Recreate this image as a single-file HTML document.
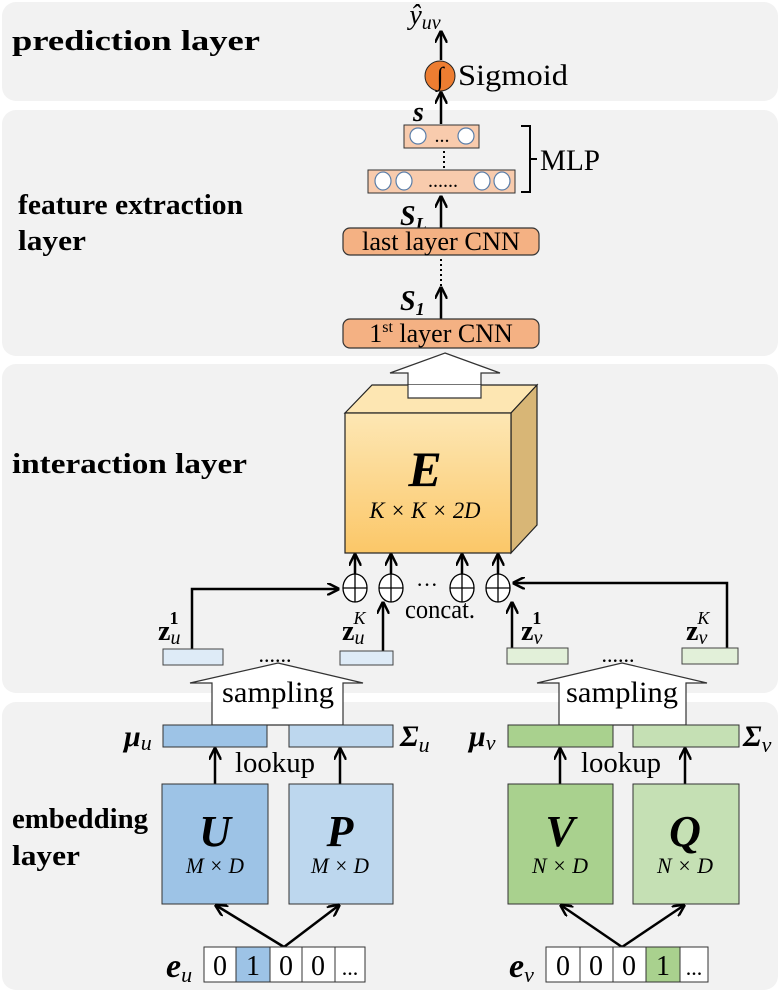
<!DOCTYPE html>
<html><head><meta charset="utf-8"><style>
html,body{margin:0;padding:0;background:#fff}
svg{display:block}
text{font-family:"Liberation Serif",serif;fill:#000}
.b{font-weight:bold}
.bi{font-weight:bold;font-style:italic}
.i{font-style:italic}
</style></head><body>
<svg width="780" height="992" viewBox="0 0 780 992" xmlns="http://www.w3.org/2000/svg">
<defs>
<marker id="ah" viewBox="0 0 10 10" refX="8" refY="5" markerWidth="5" markerHeight="5" orient="auto-start-reverse">
<path d="M0,0 L10,5 L0,10" fill="none" stroke="#000" stroke-width="2"/></marker>
<linearGradient id="cg" x1="0" y1="0" x2="0" y2="1"><stop offset="0" stop-color="#fde7b4"/><stop offset="1" stop-color="#fbc768"/></linearGradient>
</defs>
<rect x="2" y="2" width="776" height="99" rx="14" fill="#f2f2f2"/>
<rect x="2" y="110" width="776" height="246" rx="14" fill="#f2f2f2"/>
<rect x="2" y="364" width="776" height="329" rx="14" fill="#f2f2f2"/>
<rect x="2" y="702" width="776" height="288" rx="14" fill="#f2f2f2"/>
<text x="12" y="50" class="b" font-size="28" textLength="248" lengthAdjust="spacingAndGlyphs">prediction layer</text>
<text x="18" y="214" class="b" font-size="28" textLength="225" lengthAdjust="spacingAndGlyphs">feature extraction</text>
<text x="18" y="250" class="b" font-size="28" textLength="68" lengthAdjust="spacingAndGlyphs">layer</text>
<text x="12" y="473" class="b" font-size="28" textLength="235" lengthAdjust="spacingAndGlyphs">interaction layer</text>
<text x="12" y="828" class="b" font-size="28" textLength="136" lengthAdjust="spacingAndGlyphs">embedding</text>
<text x="12" y="865" class="b" font-size="28" textLength="68" lengthAdjust="spacingAndGlyphs">layer</text>

<text x="425" y="24" class="i" font-size="28" text-anchor="middle">ŷ<tspan font-size="20" dy="5">uv</tspan></text>
<line x1="441" y1="60" x2="441" y2="33" stroke="#000" stroke-width="2.5" marker-end="url(#ah)"/>
<circle cx="440" cy="76" r="15" fill="#ed7d31" stroke="#222" stroke-width="1"/>
<text x="440" y="85" font-size="26" text-anchor="middle" class="i">∫</text>
<text x="458" y="85" font-size="30" textLength="110" lengthAdjust="spacingAndGlyphs">Sigmoid</text>
<line x1="441" y1="124" x2="441" y2="94" stroke="#000" stroke-width="2.5" marker-end="url(#ah)"/>
<text x="413" y="121" class="bi" font-size="28">s</text>

<rect x="404" y="125" width="75" height="23" fill="#f8cbad" stroke="#333" stroke-width="1"/>
<ellipse cx="418" cy="136" rx="8" ry="8" fill="#fff" stroke="#5b7ea8" stroke-width="1.2"/>
<ellipse cx="466" cy="136" rx="8" ry="8" fill="#fff" stroke="#5b7ea8" stroke-width="1.2"/>
<text x="442" y="142" font-size="20" text-anchor="middle">...</text>
<line x1="444" y1="151" x2="444" y2="169" stroke="#000" stroke-width="2" stroke-dasharray="2 3"/>
<rect x="368" y="170" width="147" height="23" fill="#f8cbad" stroke="#333" stroke-width="1"/>
<ellipse cx="383" cy="181" rx="8" ry="9" fill="#fff" stroke="#5b7ea8" stroke-width="1.2"/>
<ellipse cx="404" cy="181" rx="8" ry="9" fill="#fff" stroke="#5b7ea8" stroke-width="1.2"/>
<ellipse cx="482" cy="181" rx="8" ry="9" fill="#fff" stroke="#5b7ea8" stroke-width="1.2"/>
<ellipse cx="502" cy="181" rx="8" ry="9" fill="#fff" stroke="#5b7ea8" stroke-width="1.2"/>
<text x="443" y="187" font-size="20" text-anchor="middle">......</text>
<path d="M521,126 H530 V192 H521 M530,159 H537" fill="none" stroke="#000" stroke-width="2"/>
<text x="540" y="170" font-size="30" textLength="60" lengthAdjust="spacingAndGlyphs">MLP</text>

<text x="400" y="225" class="bi" font-size="28">S<tspan font-size="18" dy="5">L</tspan></text>
<line x1="441" y1="228" x2="441" y2="198" stroke="#000" stroke-width="2.5" marker-end="url(#ah)"/>
<rect x="343" y="228" width="196" height="27" rx="7" fill="#f4b183" stroke="#333" stroke-width="1.2"/>
<text x="441" y="250" font-size="26" text-anchor="middle" textLength="158" lengthAdjust="spacingAndGlyphs">last layer CNN</text>
<line x1="441" y1="259" x2="441" y2="287" stroke="#000" stroke-width="2" stroke-dasharray="2 3"/>
<text x="400" y="310" class="bi" font-size="28">S<tspan font-size="18" dy="5">1</tspan></text>
<line x1="441" y1="319" x2="441" y2="289" stroke="#000" stroke-width="2.5" marker-end="url(#ah)"/>
<rect x="343" y="319" width="196" height="29" rx="7" fill="#f4b183" stroke="#333" stroke-width="1.2"/>
<text x="441" y="342" font-size="26" text-anchor="middle">1<tspan font-size="16" dy="-10">st</tspan><tspan dy="10"> layer CNN</tspan></text>

<path d="M445,353 L500,373 L481,373 L481,398 L408,398 L408,373 L390,373 Z" fill="#fff" stroke="#333" stroke-width="1.2"/>
<path d="M345,413 L372,385 L537,385 L511,413 Z" fill="#fde6b2" stroke="#222" stroke-width="1.2"/>
<path d="M408,398 L408,385 L481,385 L481,398 Z" fill="#fff"/>
<path d="M408,385 V398 H481 V385" fill="none" stroke="#333" stroke-width="1.2"/>
<path d="M511,413 L537,385 L537,525 L511,553 Z" fill="#d8b676" stroke="#222" stroke-width="1.2"/>
<rect x="345" y="413" width="166" height="140" fill="url(#cg)" stroke="#222" stroke-width="1.2"/>
<text x="425" y="486" class="bi" font-size="50" text-anchor="middle">E</text>
<text x="425" y="518" class="i" font-size="23" text-anchor="middle" textLength="111" lengthAdjust="spacingAndGlyphs">K × K × 2D</text>

<g stroke="#000" stroke-width="1.3" fill="#fff">
<ellipse cx="355" cy="588" rx="12" ry="14"/><path d="M343,588 H367 M355,574 V602"/>
<ellipse cx="391" cy="588" rx="12" ry="14"/><path d="M379,588 H403 M391,574 V602"/>
<ellipse cx="462" cy="588" rx="12" ry="14"/><path d="M450,588 H474 M462,574 V602"/>
<ellipse cx="498" cy="588" rx="12" ry="14"/><path d="M486,588 H510 M498,574 V602"/>
</g>
<g stroke="#000" stroke-width="2.5" marker-end="url(#ah)">
<line x1="355" y1="574" x2="355" y2="556"/><line x1="391" y1="574" x2="391" y2="556"/>
<line x1="462" y1="574" x2="462" y2="556"/><line x1="498" y1="574" x2="498" y2="556"/>
</g>
<text x="427" y="592" font-size="22" text-anchor="middle">···</text>
<text x="440" y="618" font-size="26" text-anchor="middle" textLength="70" lengthAdjust="spacingAndGlyphs">concat.</text>

<path d="M192,649 V589 H337" fill="none" stroke="#000" stroke-width="2.5" marker-end="url(#ah)"/>
<line x1="383" y1="651" x2="383" y2="604" stroke="#000" stroke-width="2.5" marker-end="url(#ah)"/>
<path d="M727,648 V583 H515" fill="none" stroke="#000" stroke-width="2.5" marker-end="url(#ah)"/>
<line x1="512" y1="648" x2="512" y2="604" stroke="#000" stroke-width="2.5" marker-end="url(#ah)"/>
<rect x="163" y="649" width="60" height="16" fill="#deebf7" stroke="#444" stroke-width="1"/>
<rect x="340" y="651" width="53" height="14" fill="#deebf7" stroke="#444" stroke-width="1"/>
<rect x="507" y="648" width="61" height="16" fill="#e2f0d9" stroke="#444" stroke-width="1"/>
<rect x="682" y="648" width="56" height="16" fill="#e2f0d9" stroke="#444" stroke-width="1"/>
<text x="275" y="662" font-size="22" text-anchor="middle">......</text>
<text x="618" y="662" font-size="22" text-anchor="middle">......</text>
<text x="158" y="640" class="b" font-size="28">z<tspan font-size="20" dy="4" class="i" font-weight="normal">u</tspan><tspan font-size="18" dy="-20" dx="-11">1</tspan></text>
<text x="342" y="640" class="b" font-size="28">z<tspan font-size="20" dy="4" class="i" font-weight="normal">u</tspan><tspan font-size="18" dy="-20" dx="-11" class="i" font-weight="normal">K</tspan></text>
<text x="521" y="640" class="b" font-size="28">z<tspan font-size="20" dy="4" class="i" font-weight="normal">v</tspan><tspan font-size="18" dy="-20" dx="-10">1</tspan></text>
<text x="686" y="640" class="b" font-size="28">z<tspan font-size="20" dy="4" class="i" font-weight="normal">v</tspan><tspan font-size="18" dy="-20" dx="-10" class="i" font-weight="normal">K</tspan></text>

<path d="M278,663 L363,683 L343,683 L343,725 L212,725 L212,683 L190,683 Z" fill="#fff" stroke="#333" stroke-width="1.2"/>
<text x="278" y="702" font-size="30" text-anchor="middle" textLength="112" lengthAdjust="spacingAndGlyphs">sampling</text>
<path d="M622,663 L707,683 L686,683 L686,725 L559,725 L559,683 L537,683 Z" fill="#fff" stroke="#333" stroke-width="1.2"/>
<text x="622" y="702" font-size="30" text-anchor="middle" textLength="112" lengthAdjust="spacingAndGlyphs">sampling</text>

<rect x="163" y="725" width="104" height="22" fill="#9dc3e6" stroke="#333" stroke-width="1"/>
<rect x="289" y="725" width="104" height="22" fill="#bdd7ee" stroke="#333" stroke-width="1"/>
<rect x="508" y="725" width="105" height="22" fill="#a9d18e" stroke="#333" stroke-width="1"/>
<rect x="633" y="725" width="106" height="22" fill="#c5e0b4" stroke="#333" stroke-width="1"/>
<text x="124" y="746" class="bi" font-size="30">μ<tspan font-size="22" class="i" font-weight="normal" dy="4">u</tspan></text>
<text x="400" y="746" class="bi" font-size="30">Σ<tspan font-size="22" class="i" font-weight="normal" dy="6">u</tspan></text>
<text x="469" y="746" class="bi" font-size="30">μ<tspan font-size="22" class="i" font-weight="normal" dy="4">v</tspan></text>
<text x="743" y="746" class="bi" font-size="30">Σ<tspan font-size="22" class="i" font-weight="normal" dy="6">v</tspan></text>
<text x="275" y="772" font-size="28" text-anchor="middle" textLength="80" lengthAdjust="spacingAndGlyphs">lookup</text>
<text x="621" y="772" font-size="28" text-anchor="middle" textLength="80" lengthAdjust="spacingAndGlyphs">lookup</text>
<g stroke="#000" stroke-width="2.5" marker-end="url(#ah)">
<line x1="215" y1="784" x2="215" y2="750"/><line x1="340" y1="784" x2="340" y2="750"/>
<line x1="560" y1="784" x2="560" y2="750"/><line x1="685" y1="784" x2="685" y2="750"/>
</g>
<rect x="162" y="784" width="106" height="120" fill="#9dc3e6" stroke="#333" stroke-width="1"/>
<rect x="289" y="784" width="104" height="120" fill="#bdd7ee" stroke="#333" stroke-width="1"/>
<rect x="508" y="784" width="105" height="120" fill="#a9d18e" stroke="#333" stroke-width="1"/>
<rect x="633" y="784" width="106" height="120" fill="#c5e0b4" stroke="#333" stroke-width="1"/>
<text x="215" y="846" class="bi" font-size="44" text-anchor="middle">U</text>
<text x="340" y="846" class="bi" font-size="44" text-anchor="middle">P</text>
<text x="560" y="846" class="bi" font-size="44" text-anchor="middle">V</text>
<text x="685" y="846" class="bi" font-size="44" text-anchor="middle">Q</text>
<text x="215" y="873" class="i" font-size="22" text-anchor="middle" textLength="58" lengthAdjust="spacingAndGlyphs">M × D</text>
<text x="340" y="873" class="i" font-size="22" text-anchor="middle" textLength="58" lengthAdjust="spacingAndGlyphs">M × D</text>
<text x="560" y="873" class="i" font-size="22" text-anchor="middle" textLength="56" lengthAdjust="spacingAndGlyphs">N × D</text>
<text x="685" y="873" class="i" font-size="22" text-anchor="middle" textLength="56" lengthAdjust="spacingAndGlyphs">N × D</text>
<g stroke="#000" stroke-width="2.5" fill="none" marker-end="url(#ah)">
<path d="M284,947 L217,906"/><path d="M284,947 L338,906"/>
<path d="M622,947 L562,906"/><path d="M622,947 L683,906"/>
</g>
<g stroke="#333" stroke-width="1">
<rect x="204" y="947" width="32" height="35" fill="#fff"/>
<rect x="236" y="947" width="34" height="35" fill="#9dc3e6"/>
<rect x="270" y="947" width="32" height="35" fill="#fff"/>
<rect x="302" y="947" width="33" height="35" fill="#fff"/>
<rect x="335" y="947" width="30" height="35" fill="#fff"/>
<rect x="546" y="947" width="34" height="35" fill="#fff"/>
<rect x="580" y="947" width="33" height="35" fill="#fff"/>
<rect x="613" y="947" width="33" height="35" fill="#fff"/>
<rect x="646" y="947" width="34" height="35" fill="#a9d18e"/>
<rect x="680" y="947" width="28" height="35" fill="#fff"/>
</g>
<g font-size="28" text-anchor="middle">
<text x="220" y="975">0</text><text x="253" y="975">1</text><text x="286" y="975">0</text><text x="318" y="975">0</text><text x="350" y="975" font-size="22">...</text>
<text x="563" y="975">0</text><text x="596" y="975">0</text><text x="629" y="975">0</text><text x="663" y="975">1</text><text x="694" y="975" font-size="22">...</text>
</g>
<text x="166" y="977" class="bi" font-size="34">e<tspan font-size="22" class="i" font-weight="normal" dy="5">u</tspan></text>
<text x="509" y="977" class="bi" font-size="34">e<tspan font-size="22" class="i" font-weight="normal" dy="5">v</tspan></text>
</svg>
</body></html>
